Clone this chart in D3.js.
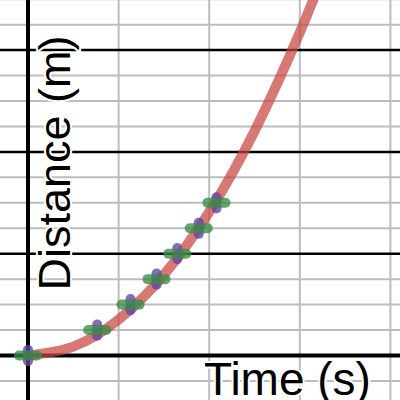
<!DOCTYPE html>
<html>
<head>
<meta charset="utf-8">
<script src="https://cdn.jsdelivr.net/npm/d3@7"></script>
<style>
  body { margin: 0; background: #fff; }
  svg { display: block; }
  .label {
    font-family: "Liberation Sans", Arial, sans-serif;
    font-size: 45px;
    fill: #000;
    stroke: #fff;
    stroke-width: 4px;
    stroke-linejoin: round;
    paint-order: stroke;
  }
</style>
</head>
<body>
<div id="chart"></div>
<script>
// measured points (time in s, distance in m)
const timeVals = [0, 0.764, 1.132, 1.419, 1.648, 1.885, 2.08];
const distVals = [0, 1, 2, 3, 4, 5, 6];
const timeErr = 0.1;
const distErr = 0.22;

// fitted curve
const fitTime = [0, 0.5, 1, 1.5, 2, 2.5, 3, 3.3];
const fitDist = [0, 0.35, 1.41, 3.17, 5.64, 8.81, 12.69, 15.36];

// grid lines
const xGridVals = [1, 2, 3, 4];
const yMinorVals = [-1, 1, 2, 3, 5, 6, 7, 9, 10, 11, 13, 14];
const yMajorVals = [4, 8, 12];

const xLabel = "Time (s)";
const yLabel = "Distance (m)";

const svgWidth = 400,
  svgHeight = 400;

const x = d3.scaleLinear().domain([0, 4]).range([28, 28 + 4 * 90.6]);
const y = d3.scaleLinear().domain([0, 14]).range([355.5, 355.5 - 14 * 25.45]);

const svg = d3
  .select("#chart")
  .append("svg")
  .attr("width", svgWidth)
  .attr("height", svgHeight);

// minor grid
svg
  .append("g")
  .attr("class", "grid-minor")
  .selectAll("line")
  .data(yMinorVals)
  .enter()
  .append("line")
  .attr("x1", 0)
  .attr("x2", svgWidth)
  .attr("y1", d => y(d))
  .attr("y2", d => y(d))
  .attr("stroke", "#bdbdbd")
  .attr("stroke-width", 2);

svg
  .append("g")
  .attr("class", "grid-x")
  .selectAll("line")
  .data(xGridVals)
  .enter()
  .append("line")
  .attr("x1", d => x(d))
  .attr("x2", d => x(d))
  .attr("y1", 0)
  .attr("y2", svgHeight)
  .attr("stroke", "#bdbdbd")
  .attr("stroke-width", 2);

// major grid
svg
  .append("g")
  .attr("class", "grid-major")
  .selectAll("line")
  .data(yMajorVals)
  .enter()
  .append("line")
  .attr("x1", 0)
  .attr("x2", svgWidth)
  .attr("y1", d => y(d))
  .attr("y2", d => y(d))
  .attr("stroke", "#000")
  .attr("stroke-width", 2.5);

// axes
svg
  .append("line")
  .attr("x1", 0)
  .attr("x2", svgWidth)
  .attr("y1", y(0))
  .attr("y2", y(0))
  .attr("stroke", "#000")
  .attr("stroke-width", 4);

svg
  .append("line")
  .attr("x1", x(0))
  .attr("x2", x(0))
  .attr("y1", 0)
  .attr("y2", svgHeight)
  .attr("stroke", "#000")
  .attr("stroke-width", 4);

// fitted curve
const line = d3
  .line()
  .x((d, i) => x(fitTime[i]))
  .y(d => y(d))
  .curve(d3.curveNatural);

svg
  .append("path")
  .datum(fitDist)
  .attr("d", line)
  .attr("fill", "none")
  .attr("stroke", "#c74440")
  .attr("stroke-opacity", 0.72)
  .attr("stroke-width", 10)
  .attr("stroke-linecap", "round");

// error bars
svg
  .append("g")
  .attr("class", "dist-err")
  .selectAll("line")
  .data(distVals)
  .enter()
  .append("line")
  .attr("x1", (d, i) => x(timeVals[i]))
  .attr("x2", (d, i) => x(timeVals[i]))
  .attr("y1", d => y(d - distErr))
  .attr("y2", d => y(d + distErr))
  .attr("stroke", "#6042a6")
  .attr("stroke-opacity", 0.78)
  .attr("stroke-width", 10)
  .attr("stroke-linecap", "round");

svg
  .append("g")
  .attr("class", "time-err")
  .selectAll("line")
  .data(timeVals)
  .enter()
  .append("line")
  .attr("x1", d => x(d - timeErr))
  .attr("x2", d => x(d + timeErr))
  .attr("y1", (d, i) => y(distVals[i]))
  .attr("y2", (d, i) => y(distVals[i]))
  .attr("stroke", "#388c46")
  .attr("stroke-opacity", 0.78)
  .attr("stroke-width", 10)
  .attr("stroke-linecap", "round");

// labels
svg
  .append("text")
  .attr("class", "label")
  .attr("transform", "translate(70,290.5) rotate(-90)")
  .text(yLabel);

svg
  .append("text")
  .attr("class", "label")
  .attr("x", 204)
  .attr("y", 395)
  .style("font-size", "46px")
  .text(xLabel);
</script>
</body>
</html>
